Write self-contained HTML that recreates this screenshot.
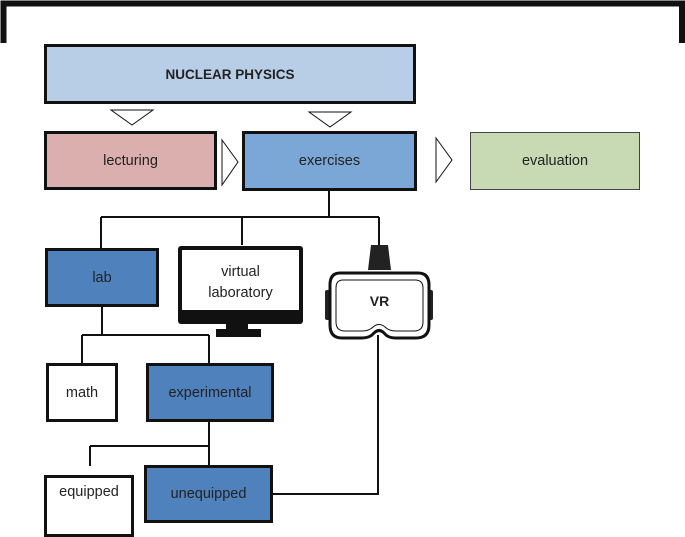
<!DOCTYPE html>
<html><head><style>
html,body{margin:0;padding:0;background:#fff;}
body{width:685px;height:535px;position:relative;overflow:hidden;font-family:"Liberation Sans",sans-serif;}
.b{position:absolute;box-sizing:border-box;border:3px solid #111;display:flex;align-items:center;justify-content:center;font-size:14.5px;color:#222;text-align:center;}
</style></head><body>
<svg width="685" height="535" style="position:absolute;left:0;top:0">
<g fill="none" stroke="#111">
<path d="M3.5 43 V3.5 H682 V43" stroke-width="6"/>
<g stroke-width="1">
<path d="M111 110 H153 L132 125 Z"/>
<path d="M309 112 H351 L330 127 Z"/>
<path d="M222 140 V185 L238 162 Z"/>
<path d="M436 138 V182 L452 160 Z"/>
</g>
<g stroke-width="2">
<path d="M329 190 V217 M101 217 H379 M101 217 V248 M242 217 V245 M379 217 V245"/>
<path d="M102 306 V335 M82 335 H209 M82 335 V363 M209 335 V363"/>
<path d="M209 422 V465 M90 446 H209 M90 446 V466"/>
<path d="M378 335 V494 H272"/>
</g>
</g>
<rect x="178" y="246" width="125" height="78" rx="3" fill="#111"/>
<rect x="182" y="250" width="117" height="60" fill="#fff"/>
<rect x="226" y="324" width="22" height="6" fill="#111"/>
<rect x="216" y="329" width="45" height="8" fill="#111"/>
<path d="M371 245 H388 L391 270 H368 Z" fill="#222"/>
<rect x="325" y="290" width="7" height="30" rx="2" fill="#222"/>
<rect x="426" y="290" width="7" height="30" rx="2" fill="#222"/>
<path d="M340 273 H418 Q429 273 429 285 V325 Q429 338 416 338 H395 Q388 338 384 333 Q379 328 374 333 Q370 338 362 338 H342 Q330 338 330 325 V285 Q330 273 340 273 Z" fill="#fff" stroke="#111" stroke-width="3"/>
<path d="M343 280 H415 Q423 280 423 288 V322 Q423 331 414 331 H396 Q389 331 385 327 Q379 322 373 327 Q369 331 362 331 H345 Q336 331 336 322 V288 Q336 280 343 280 Z" fill="none" stroke="#111" stroke-width="1"/>
</svg>
<div class="b" style="left:44px;top:44px;width:372px;height:60px;background:#b8cde6;font-weight:bold;font-size:13.5px;">NUCLEAR PHYSICS</div>
<div class="b" style="left:44px;top:131px;width:173px;height:59px;background:#dcafaf;">lecturing</div>
<div class="b" style="left:242px;top:131px;width:175px;height:60px;background:#7ba7d7;">exercises</div>
<div class="b" style="left:470px;top:132px;width:170px;height:58px;background:#c8dab4;border-width:1px;border-color:#444;">evaluation</div>
<div class="b" style="left:45px;top:248px;width:114px;height:59px;background:#4f81bd;">lab</div>
<div style="position:absolute;left:182px;top:262px;width:117px;text-align:center;font-size:14.5px;line-height:21px;color:#222;">virtual<br>laboratory</div>
<div style="position:absolute;left:330px;top:293px;width:99px;text-align:center;font-size:14px;font-weight:bold;color:#222;">VR</div>
<div class="b" style="left:46px;top:363px;width:72px;height:59px;background:#fff;">math</div>
<div class="b" style="left:146px;top:363px;width:128px;height:59px;background:#4f81bd;">experimental</div>
<div class="b" style="left:144px;top:465px;width:129px;height:58px;background:#4f81bd;">unequipped</div>
<div class="b" style="left:44px;top:475px;width:90px;height:62px;background:#fff;align-items:flex-start;padding-top:6px;">equipped</div>
</body></html>
